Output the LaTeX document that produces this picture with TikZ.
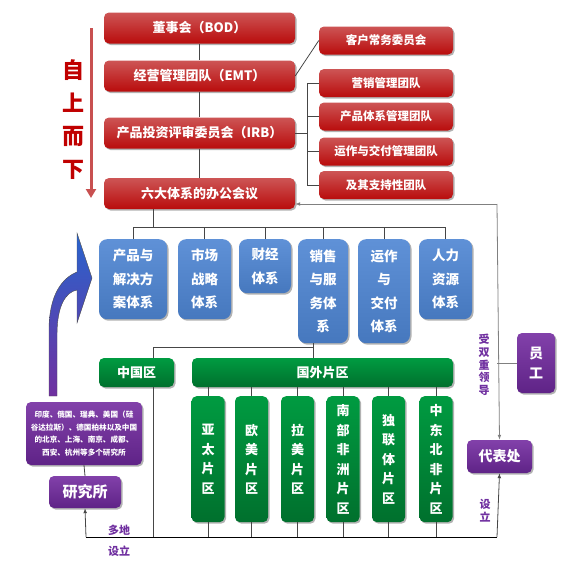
\documentclass[tikz,border=0pt]{standalone}
\usepackage{fontspec}
\setmainfont{Noto Sans CJK SC}
\usetikzlibrary{shadows,arrows.meta}
\definecolor{redtop}{RGB}{205,85,85}
\definecolor{redbot}{RGB}{185,12,12}
\definecolor{bluetop}{RGB}{95,145,215}
\definecolor{bluebot}{RGB}{70,120,190}
\definecolor{greentop}{RGB}{0,155,65}
\definecolor{greenbot}{RGB}{0,112,45}
\definecolor{purptop}{RGB}{130,65,170}
\definecolor{purpbot}{RGB}{95,35,135}
\definecolor{purptext}{RGB}{112,48,160}
\definecolor{redtext}{RGB}{192,0,0}
\definecolor{arrowred}{RGB}{200,80,80}
\definecolor{arrowblue}{RGB}{40,100,205}
\definecolor{linegray}{RGB}{70,70,70}
\tikzset{
  box/.style={rounded corners=5pt, text=white, align=center, inner sep=0pt,
    drop shadow={shadow xshift=1.5pt, shadow yshift=-1.5pt, fill=black!60}},
  redbox/.style={box, top color=redtop, bottom color=redbot, minimum width=191pt,
    minimum height=31pt, font=\bfseries\fontsize{13}{15}\selectfont},
  redsub/.style={box, top color=redtop, bottom color=redbot, minimum width=134pt,
    minimum height=28pt, font=\bfseries\fontsize{11.5}{14}\selectfont},
  bluebox/.style={box, top color=bluetop, bottom color=bluebot, anchor=north,
    rounded corners=8pt, font=\bfseries\fontsize{13.5}{23.5}\selectfont},
  greenbox/.style={box, top color=greentop, bottom color=greenbot,
    minimum height=29pt, font=\bfseries\fontsize{13}{15}\selectfont},
  region/.style={greenbox, anchor=north, minimum width=33pt, minimum height=126pt,
    font=\bfseries\fontsize{13}{19.5}\selectfont},
  purpbox/.style={box, top color=purptop, bottom color=purpbot},
  link/.style={draw=linegray, line width=0.8pt},
  note/.style={text=purptext, align=center, font=\bfseries\fontsize{11}{12.7}\selectfont}
}
\begin{document}
\begin{tikzpicture}[x=1pt,y=-1pt]
\useasboundingbox (0,0) rectangle (563,562);

\node[redbox] (bod) at (199.5,28) {董事会（BOD）};
\node[redbox] (emt) at (199.5,76) {经营管理团队（EMT）};
\node[redbox] (irb) at (199.5,133) {产品投资评审委员会（IRB）};
\node[redbox] (six) at (199.5,193.5) {六大体系的办公会议};

\node[redsub] (kehu) at (386,40.5) {客户常务委员会};
\node[redsub] (yingxiao) at (386,83) {营销管理团队};
\node[redsub] (chanpin) at (386,116.5) {产品体系管理团队};
\node[redsub] (yunzuo) at (386,151.5) {运作与交付管理团队};
\node[redsub] (jiqi) at (386,185) {及其支持性团队};

\draw[line width=3pt, arrowred, -{Triangle[length=9pt,width=10pt]}] (91,28) -- (91,198);
\node[text=redtext, align=center, font=\bfseries\fontsize{22}{33}\selectfont] (zishang) at (73,120) {自\\上\\而\\下};

\node[bluebox, minimum width=68pt, minimum height=80pt] (fangan) at (133,239) {产品与\\解决方\\案体系};
\node[bluebox, minimum width=53pt, minimum height=80pt] (shichang) at (204.5,239) {市场\\战略\\体系};
\node[bluebox, minimum width=52pt, minimum height=54pt] (caijing) at (265,239) {财经\\体系};
\node[bluebox, minimum width=50pt, minimum height=104pt] (xiaoshou) at (323,239) {销售\\与服\\务体\\系};
\node[bluebox, minimum width=52pt, minimum height=104pt] (jiaofu) at (384,239) {运作\\与\\交付\\体系};
\node[bluebox, minimum width=53pt, minimum height=80pt] (renli) at (445.5,239) {人力\\资源\\体系};

\node[greenbox, minimum width=75pt] (china) at (136.5,372.5) {中国区};
\node[greenbox, minimum width=261pt] (abroad) at (322.5,372.5) {国外片区};
\foreach \name/\x/\txt in {yatai/208/{亚\\太\\片\\区}, oumei/251.5/{欧\\美\\片\\区},
    lamei/297.5/{拉\\美\\片\\区}, nanfei/343/{南\\部\\非\\洲\\片\\区},
    dulian/388.5/{独\\联\\体\\片\\区}, zhongdong/436/{中\\东\\北\\非\\片\\区}}
  \node[region] (\name) at (\x,396) {\txt};

\node[purpbox, minimum width=116pt, minimum height=63pt, font=\bfseries\fontsize{7.6}{12.7}\selectfont] (liebiao) at (84,433.5)
  {印度、俄国、瑞典、美国（硅\\谷达拉斯）、德国柏林以及中国\\的北京、上海、南京、成都、\\西安、杭州等多个研究所};
\node[purpbox, minimum width=72pt, minimum height=32pt, font=\bfseries\fontsize{15}{17}\selectfont] (yanjiu) at (85,492) {研究所};
\node[purpbox, minimum width=65pt, minimum height=33pt, font=\bfseries\fontsize{14}{16}\selectfont] (daibiao) at (499.5,456.5) {代表处};
\node[purpbox, minimum width=38pt, minimum height=60pt, font=\bfseries\fontsize{14}{20}\selectfont] (yuangong) at (536,363) {员\\工};

\shade[top color=arrowblue, bottom color=purptext, draw=black!70, line width=0.4pt]
  (49,396) -- (49,330) .. controls (49,295) and (62,278) .. (77,272) -- (77,233)
  -- (92,278) -- (77,323) -- (77,290) .. controls (66,292) and (57,305) .. (57,335)
  -- (57,396) -- cycle;

\draw[link] (bod.south) -- (emt.north);
\draw[link] (emt.south) -- (irb.north);
\draw[link] (irb.south) -- (six.north);
\draw[link] (emt.east) -- (kehu.west);
\coordinate (brk) at (307,133);
\draw[link] (irb.east) -- (brk);
\foreach \n in {yingxiao,chanpin,yunzuo,jiqi}
  \draw[link] (\n.west) -| (brk);

\coordinate (bus) at (153,227);
\draw[link] ([xshift=-46.5pt]six.south) -- (bus);
\foreach \n in {fangan,shichang,caijing,xiaoshou,jiaofu,renli}
  \draw[link] (\n.north) |- (bus);

\coordinate (gbus) at (313,347);
\draw[link] ([xshift=-10pt]xiaoshou.south) -- ([xshift=-10pt]xiaoshou.south |- abroad.north);
\draw[link] (gbus) -| ([xshift=16.5pt]china.north);

\coordinate (bl) at (86,537);
\coordinate (br) at (497,537);
\coordinate (fb) at (497,204);
\foreach \n in {yatai,oumei,lamei,nanfei,dulian,zhongdong} {
  \draw[link] (\n.north) -- (\n.north |- abroad.south);
  \draw[link] (\n.south) -- (\n.south |- bl);
}
\draw[link] ([xshift=16.5pt]china.south) -- ([xshift=16.5pt]china.south |- bl);
\draw[link, draw=black] (bl) -- (br);
\draw[link, -{Latex[length=5pt]}] (bl) -- (yanjiu.south);
\draw[link, -{Latex[length=5pt]}] (br) -- (daibiao.south);
\draw[link, draw=gray, -{Latex[length=5pt]}] (fb) -- (fb -| six.east);
\draw[link, draw=gray, -{Latex[length=5pt]}] (fb) -- (daibiao.north);
\draw[link, draw=gray] (yuangong.west) -- (yuangong.west -| fb);
\draw[link] (liebiao.south) -- (yanjiu.north);

\node[note] (lingdao) at (484,365) {受\\双\\重\\领\\导};
\node[note] (sheli) at (485,511) {设\\立};
\node[note] (duodi) at (119,530) {多地};
\node[note] (sheli2) at (119,551) {设立};
\end{tikzpicture}
\end{document}
